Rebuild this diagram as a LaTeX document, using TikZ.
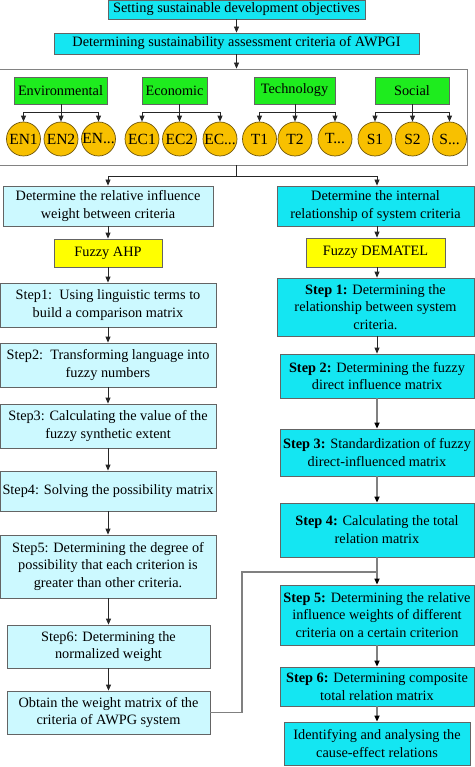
\documentclass[tikz,border=0pt]{standalone}
\usepackage{fontspec}
\setmainfont{Liberation Serif}
\usetikzlibrary{arrows.meta}
\definecolor{lcyan}{RGB}{204,249,255}
\definecolor{cyanc}{RGB}{20,230,242}
\definecolor{grn}{RGB}{30,236,30}
\definecolor{yel}{RGB}{255,255,0}
\definecolor{gold}{RGB}{248,192,0}
\definecolor{circb}{RGB}{110,85,10}
\definecolor{bord}{RGB}{100,100,100}
\definecolor{framec}{RGB}{130,130,130}
\begin{document}
\begin{tikzpicture}[x=1pt,y=-1pt,
  font=\fontsize{14.3}{17.8}\selectfont,
  box/.style={draw=bord, line width=0.8pt, inner sep=1pt, align=center},
  lbox/.style={box, fill=lcyan},
  cbox/.style={box, fill=cyanc},
  ybox/.style={box, fill=yel},
  gbox/.style={box, fill=grn},
  circ/.style={circle, draw=circb, line width=0.7pt, fill=gold, minimum size=34pt, inner sep=0pt, font=\fontsize{15.5}{18}\selectfont},
  arr/.style={-{Triangle[length=6pt,width=5pt]}, line width=0.8pt, draw=black!85},
  garr/.style={-{Triangle[length=6pt,width=5pt,color=black]}, line width=1.5pt, draw=gray},
  gline/.style={line width=1.2pt, draw=gray},
  pline/.style={line width=0.8pt, draw=black!85},
]
\useasboundingbox (0,0) rectangle (474,767);

% top
\node[cbox, minimum width=257pt, minimum height=19pt] (B1) at (236.5,9.5) {Setting sustainable development objectives};
\node[cbox, minimum width=365pt, minimum height=21pt] (B2) at (236.5,43.5) {Determining sustainability assessment criteria of AWPGI};
\node[draw=framec, line width=0.8pt, minimum width=468pt, minimum height=96pt, inner sep=0pt] (frame) at (233,117) {};
\draw[arr] (B1) -- (B2);
\draw[arr] (B2.south) -- (B2.south |- frame.north);

% categories
\node[gbox, minimum width=93pt, minimum height=27pt] (env) at (60.5,90.5) {Environmental};
\node[gbox, minimum width=65pt, minimum height=27pt] (eco) at (174.5,90.5) {Economic};
\node[gbox, minimum width=81pt, minimum height=27pt] (tec) at (294.5,90.5) {Technology};
\node[gbox, minimum width=74pt, minimum height=27pt] (soc) at (412,90.5) {Social};

\node[circ] (en1) at (23.5,139) {EN1};
\node[circ] (en2) at (61,139) {EN2};
\node[circ] (en3) at (98.5,139) {EN...};
\node[circ] (ec1) at (142,139) {EC1};
\node[circ] (ec2) at (179.5,139) {EC2};
\node[circ] (ec3) at (220,139) {EC...};
\node[circ] (t1) at (259.5,139) {T1};
\node[circ] (t2) at (295,139) {T2};
\node[circ] (t3) at (335,139) {T...};
\node[circ] (s1) at (375,139) {S1};
\node[circ] (s2) at (412.5,139) {S2};
\node[circ] (s3) at (449.5,139) {S...};

\coordinate (envb) at (61,112.3);
\coordinate (ecob) at (179.5,112.3);
\coordinate (tecb) at (295,112.3);
\coordinate (socb) at (412.5,112.3);
\draw[pline] (env.south -| envb) -- (envb);
\draw[pline] (eco.south -| ecob) -- (ecob);
\draw[pline] (tec.south -| tecb) -- (tecb);
\draw[pline] (soc.south -| socb) -- (socb);
\draw[arr] (envb) -| (en1.north);
\draw[arr] (envb) -- (en2.north);
\draw[arr] (envb) -| (en3.north);
\draw[arr] (ecob) -| (ec1.north);
\draw[arr] (ecob) -- (ec2.north);
\draw[arr] (ecob) -| (ec3.north);
\draw[arr] (tecb) -| (t1.north);
\draw[arr] (tecb) -- (t2.north);
\draw[arr] (tecb) -| (t3.north);
\draw[arr] (socb) -| (s1.north);
\draw[arr] (socb) -- (s2.north);
\draw[arr] (socb) -| (s3.north);

% left column
\node[lbox, minimum width=210pt, minimum height=40pt] (L0) at (108,206) {Determine the relative influence\\weight between criteria};
\node[ybox, minimum width=108pt, minimum height=28pt] (AHP) at (108,253) {Fuzzy AHP};
\node[lbox, minimum width=216pt, minimum height=44pt] (S1) at (108,305) {Step1:\ \ Using linguistic terms to\\build a comparison matrix};
\node[lbox, minimum width=216pt, minimum height=44pt] (S2) at (108,365) {Step2:\ \ Transforming language into\\fuzzy numbers};
\node[lbox, minimum width=216pt, minimum height=44pt] (S3) at (108,426) {Step3: Calculating the value of the\\fuzzy synthetic extent};
\node[lbox, minimum width=216pt, minimum height=40pt] (S4) at (108,491) {Step4: Solving the possibility matrix};
\node[lbox, minimum width=216pt, minimum height=63pt] (S5) at (108,566.5) {Step5: Determining the degree of\\possibility that each criterion is\\greater than other criteria.};
\node[lbox, minimum width=203pt, minimum height=43pt] (S6) at (108.5,646.5) {Step6: Determining the\\normalized weight};
\node[lbox, minimum width=203pt, minimum height=43pt] (OB) at (108.5,712.5) {Obtain the weight matrix of the\\criteria of AWPG system};

\draw[arr] (L0) -- (AHP);
\draw[arr] (AHP) -- (S1);
\draw[arr] (S1) -- (S2);
\draw[arr] (S2) -- (S3);
\draw[arr] (S3) -- (S4);
\draw[arr] (S4) -- (S5);
\draw[arr] (S5.south -| S6.north) -- (S6.north);
\draw[arr] (S6) -- (OB);

% right column
\coordinate (rx) at (377,0);
\node[cbox, minimum width=197pt, minimum height=40pt] (R0) at (375.5,206) {Determine the internal\\relationship of system criteria};
\node[ybox, minimum width=139pt, minimum height=29pt] (DEM) at (375.5,252.5) {Fuzzy DEMATEL};
\node[cbox, minimum width=197pt, minimum height=58pt] (R1) at (375.5,307) {\textbf{Step 1:} Determining the\\relationship between system\\criteria.};
\node[cbox, minimum width=194pt, minimum height=44pt] (R2) at (377,376) {\textbf{Step 2:} Determining the fuzzy\\direct influence matrix};
\node[cbox, minimum width=194pt, minimum height=47pt] (R3) at (377,452.5) {\textbf{Step 3:} Standardization of fuzzy\\direct-influenced matrix};
\node[cbox, minimum width=194pt, minimum height=54pt] (R4) at (377,530) {\textbf{Step 4:} Calculating the total\\relation matrix};
\node[cbox, minimum width=194pt, minimum height=60pt] (R5) at (377,615) {\textbf{Step 5:} Determining the relative\\influence weights of different\\criteria on a certain criterion};
\node[cbox, minimum width=194pt, minimum height=39pt] (R6) at (377,686.5) {\textbf{Step 6:} Determining composite\\total relation matrix};
\node[cbox, minimum width=186pt, minimum height=43pt] (R7) at (377,743.5) {Identifying and analysing the\\cause-effect relations};

\coordinate (split) at (236.5,176);
\draw[pline] (split |- frame.south) -- (split);
\draw[arr] (split) -| (L0.north);
\draw[arr] (split) -| (R0.north -| rx);

\draw[arr] (R0.south -| rx) -- (DEM.north -| rx);
\draw[arr] (DEM.south -| rx) -- (R1.north -| rx);
\draw[arr] (R1.south -| rx) -- (R2.north);
\draw[garr] (R2) -- (R3);
\draw[garr] (R3) -- (R4);
\draw[garr] (R4) -- (R5);
\draw[garr] (R5) -- (R6);
\draw[garr] (R6) -- (R7);

\coordinate (jn) at (242,572);
\draw[gline] (OB.east) -| (jn) -- (jn -| R5.north);
\end{tikzpicture}
\end{document}
